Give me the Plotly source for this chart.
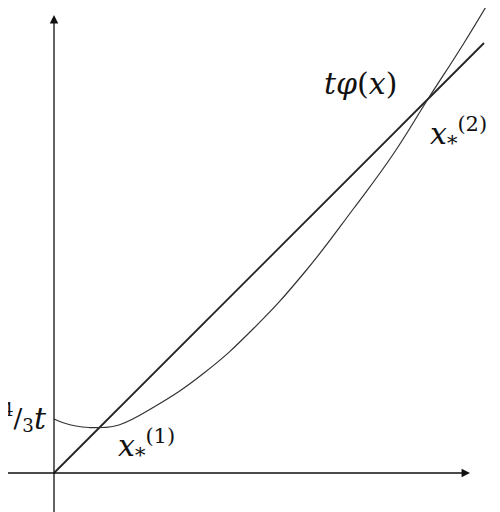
import plotly.graph_objects as go

line_x = [0, 430]
line_y = [0, 430]
curve_x = [0, 10, 22, 35, 48, 65, 100, 150, 200, 250, 300, 340, 374, 410, 446]
curve_y = [54, 50, 47, 45.5, 45.5, 48, 66, 100, 145, 200, 265, 320, 374, 430, 490]

fig = go.Figure()
fig.add_trace(go.Scatter(x=line_x, y=line_y, mode="lines", line=dict(color="#222", width=1.8)))
fig.add_trace(go.Scatter(x=curve_x, y=curve_y, mode="lines", line=dict(color="#333", width=1.2, shape="spline", smoothing=1.3)))

fig.add_annotation(x=416, y=0, ax=-60, ay=0, xref="x", yref="y", axref="x", ayref="y",
                   showarrow=True, arrowhead=2, arrowsize=1.3, arrowwidth=1.3, arrowcolor="#111", text="")
fig.add_annotation(x=0, y=458, ax=0, ay=-60, xref="x", yref="y", axref="x", ayref="y",
                   showarrow=True, arrowhead=2, arrowsize=1.3, arrowwidth=1.3, arrowcolor="#111", text="")

f = dict(family="DejaVu Serif", size=30, color="#111")
fig.add_annotation(x=306, y=390, text="<i>tφ</i>(<i>x</i>)", showarrow=False, font=f)
fig.add_annotation(x=404, y=340, text="<i>x</i><sub>*</sub><sup>(2)</sup>", showarrow=False, font=f)
fig.add_annotation(x=92, y=28, text="<i>x</i><sub>*</sub><sup>(1)</sup>", showarrow=False, font=f)
fig.add_annotation(x=-36, y=56, text="<sup>4</sup>/<sub>3</sub>", showarrow=False, font=dict(family="DejaVu Serif", size=26, color="#111"))
fig.add_annotation(x=-14, y=55, text="<i>t</i>", showarrow=False, font=f)

fig.update_xaxes(range=[-46, 454], visible=False)
fig.update_yaxes(range=[-47, 465], visible=False)
fig.update_layout(width=500, height=512, margin=dict(l=0, r=0, t=0, b=0),
                  plot_bgcolor="white", paper_bgcolor="white", showlegend=False)
fig.write_html("out.html")
